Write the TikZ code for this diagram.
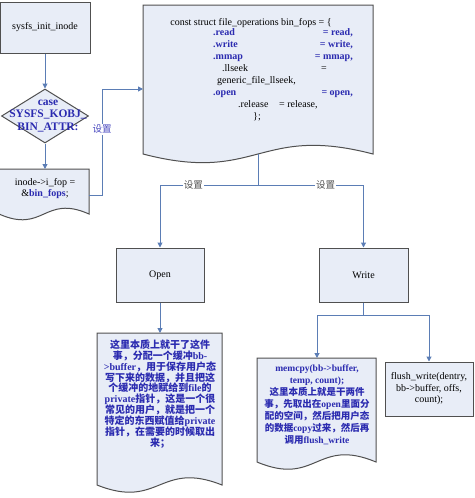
\documentclass[tikz,border=0pt]{standalone}
\usepackage{fontspec}
\setmainfont{Liberation Serif}
\newfontfamily\cjk{Noto Sans CJK SC}
\usetikzlibrary{arrows.meta,shapes.geometric}
\definecolor{fillc}{HTML}{E8EDF7}
\definecolor{bord}{HTML}{505050}
\definecolor{arrc}{HTML}{5B7DB5}
\definecolor{tblue}{HTML}{2B2BB0}
\definecolor{lblue}{HTML}{4A4AC0}
\newcommand{\zh}[1]{{\cjk #1}}
\newcommand{\docpath}[5]{\path[boxst] (#1,#2) -- (#3,#2) -- (#3,#4) .. controls ({(#1+#3)/2},{#4-#5}) and ({(#1+#3)/2},{#4+#5}) .. (#1,#4) -- cycle;}
\begin{document}
\begin{tikzpicture}[x=1pt,y=-1pt,
  boxst/.style={draw=bord,fill=fillc,line width=1pt},
  rbox/.style={boxst,rectangle,inner sep=0,font=\fontsize{10}{12}\selectfont},
  conn/.style={draw=arrc,line width=1pt},
  arr/.style={conn,-{Triangle[length=5pt,width=5pt]}},
  lbl/.style={fill=white,inner sep=1pt,font=\cjk\fontsize{9.5}{11}\selectfont,text=bord},
  code/.style={inner sep=0,text height=7pt,text depth=2pt,font=\fontsize{10}{12}\selectfont},
  codeb/.style={code,text=tblue,font=\fontsize{10}{12}\selectfont\bfseries},
]
\useasboundingbox (0,0) rectangle (474,498);

% left column
\node[rbox,minimum width=90,minimum height=51] (init) at (45,27.5) {sysfs\_init\_inode};
\node[boxst,diamond,minimum width=87,minimum height=54,inner sep=0] (dia) at (45,116) {};
\node[font=\fontsize{11.5}{12.5}\selectfont\bfseries,text=tblue,align=center,inner sep=0] (diat) at (48,116) {case\\SYSFS\_KOBJ\_\\BIN\_ATTR:};
\docpath{-1}{169}{89}{214}{20}
\node[font=\fontsize{10}{11}\selectfont,align=center,inner sep=0] (ifop) at (45,189) {inode->i\_fop =\\\&\textcolor{tblue}{\bfseries bin\_fops};};
\coordinate (ifopTop) at (45,169);
\coordinate (ifopR) at (89,195);

% big document
\docpath{143}{5}{373}{154}{30}
\coordinate (fopsL) at (143,89);
\coordinate (fopsB) at (258,154);
\node[code,anchor=center] (c1) at (251,23) {const struct file\_operations bin\_fops = \{};
\node[codeb,anchor=west] (c2a) at (213,33) {.read};
\node[codeb,anchor=east] (c2b) at (353,33) {= read,};
\node[codeb,anchor=west] (c3a) at (213,45) {.write};
\node[codeb,anchor=east] (c3b) at (353,45) {= write,};
\node[codeb,anchor=west] (c4a) at (213,57) {.mmap};
\node[codeb,anchor=east] (c4b) at (353,57) {= mmap,};
\node[code,anchor=west] (c5a) at (222,69) {.llseek};
\node[code,anchor=west] (c5b) at (321,69) {=};
\node[code,anchor=west] (c6) at (217,81) {generic\_file\_llseek,};
\node[codeb,anchor=west] (c7a) at (213,93) {.open};
\node[codeb,anchor=east] (c7b) at (353,93) {= open,};
\node[code,anchor=west] (c8a) at (238,105) {.release};
\node[code,anchor=west] (c8b) at (279,105) {= release,};
\node[code,anchor=center] (c9) at (257,117) {\};};

% open / write
\node[rbox,minimum width=88,minimum height=54] (open) at (160,275) {Open};
\node[rbox,minimum width=89,minimum height=54] (write) at (363.5,275) {Write};

% doc 3
\docpath{97}{333}{222}{485}{25}
\coordinate (d3top) at (160,333);
\node[font=\fontsize{10}{10.85}\selectfont\bfseries,text=tblue,align=center,inner sep=0] (d3t) at (160,394) {%
\zh{这里本质上就干了这件}\\
\zh{事，分配一个缓冲}bb-\\
>buffer\zh{，用于保存用户态}\\
\zh{写下来的数据，并且把这}\\
\zh{个缓冲的地赋给到}file\zh{的}\\
private\zh{指针，这是一个很}\\
\zh{常见的用户，就是把一个}\\
\zh{特定的东西赋值给}private\\
\zh{指针，在需要的时候取出}\\
\zh{来；}};

% doc 4
\docpath{257}{358}{376}{462}{25}
\coordinate (d4top) at (317,358);
\node[font=\fontsize{9.5}{12}\selectfont\bfseries,text=tblue,align=center,inner sep=0] (d4t) at (317,405) {%
memcpy(bb->buffer,\\
temp, count);\\
\zh{这里本质上就是干两件}\\
\zh{事，先取出在}open\zh{里面分}\\
\zh{配的空间，然后把用户态}\\
\zh{的数据}copy\zh{过来，然后再}\\
\zh{调用}flush\_write};

% flush
\node[rbox,minimum width=88,minimum height=54,align=center,font=\fontsize{10}{11.5}\selectfont] (flush) at (429,389) {flush\_write(dentry,\\bb->buffer, offs,\\count);};

% connectors
\draw[arr] (init.south) -- (dia.north);
\draw[arr] (dia.south) -- (ifopTop);
\draw[arr] (ifopR) -- ++(13,0) |- node[pos=0.31,lbl,text=lblue]{设置} (fopsL);
\coordinate (split) at (258,185);
\draw[conn] (fopsB) -- (split);
\draw[arr] (split) -| node[pos=0.33,lbl]{设置} (open.north);
\draw[arr] (split) -| node[pos=0.32,lbl]{设置} (write.north);
\draw[arr] (open.south) -- (d3top);
\coordinate (wsplit) at (363.5,315);
\draw[conn] (write.south) -- (wsplit);
\draw[arr] (wsplit) -| (d4top);
\draw[arr] (wsplit) -| (flush.north);
\end{tikzpicture}
\end{document}
